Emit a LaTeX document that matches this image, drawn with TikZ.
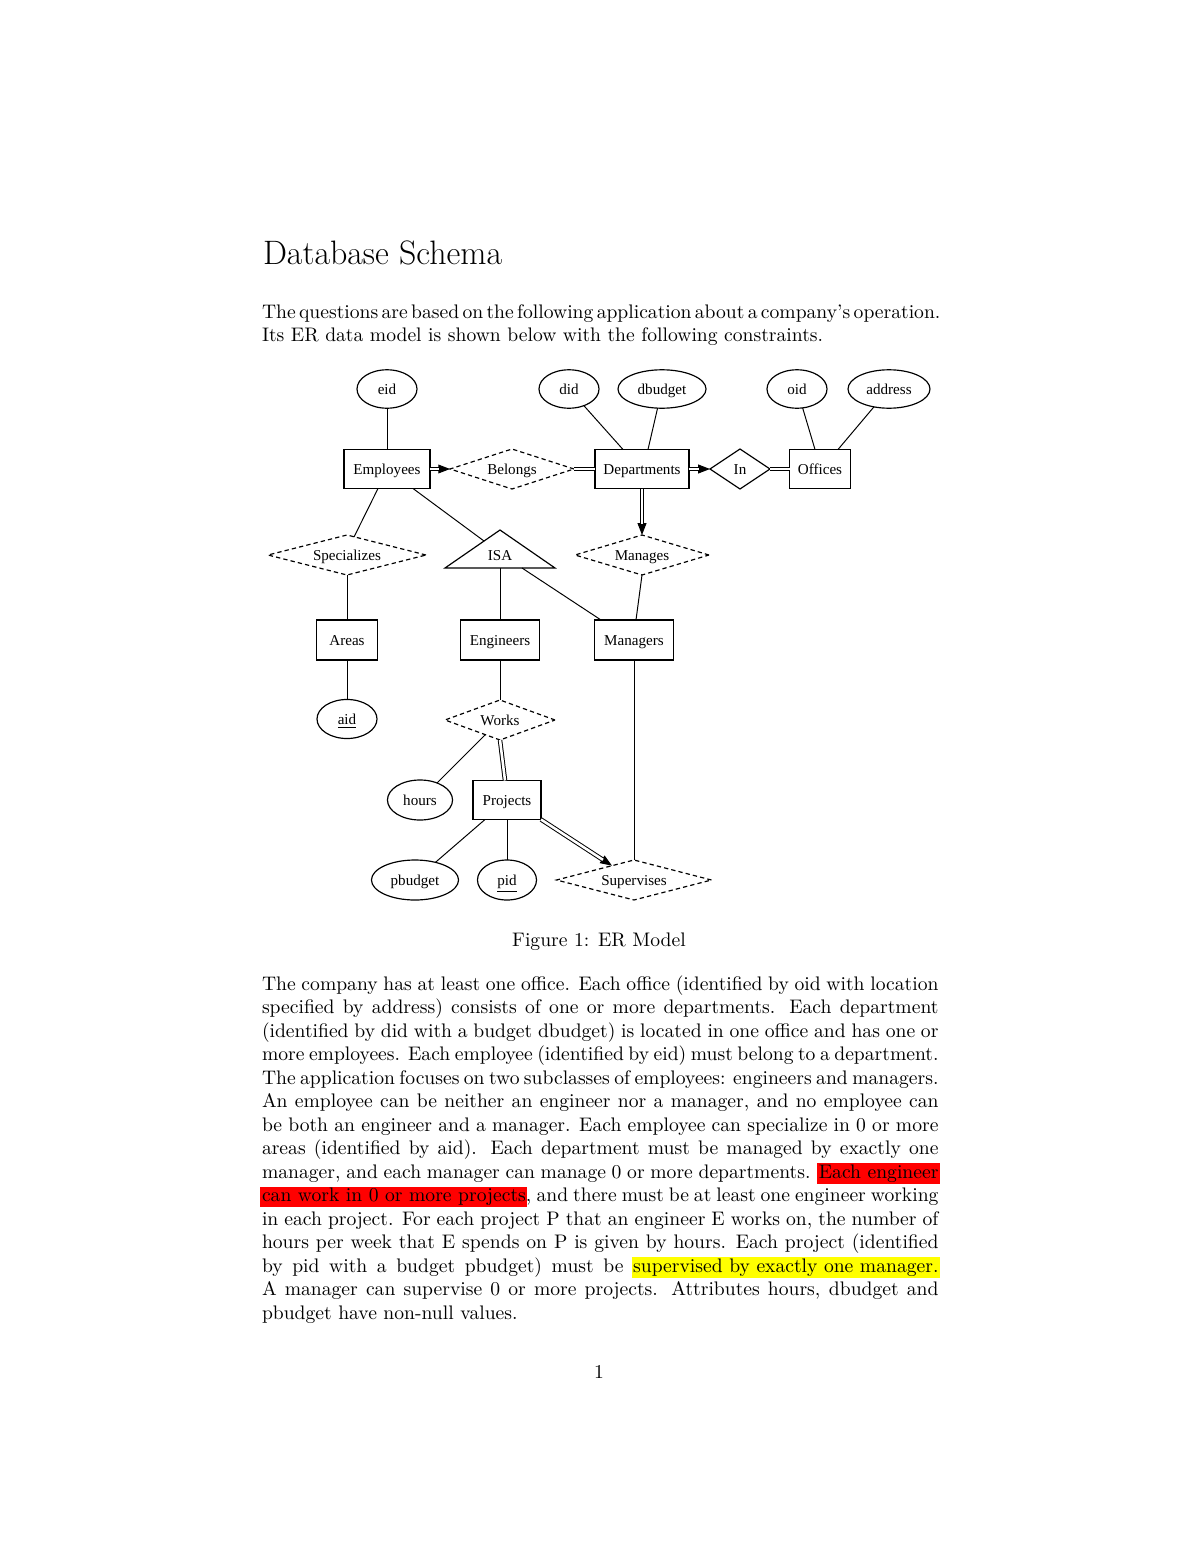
\documentclass[tikz,border=0pt]{standalone}
\usepackage{fontspec}
\newfontfamily\dfont{Liberation Serif}
\usetikzlibrary{shapes.geometric,arrows.meta,calc}
\newcommand\dblarr[2]{%
  \draw[line width=0.5pt,-{Triangle[length=6pt,width=4.5pt]}] (#1) -- (#2);
  \draw[dblline,shorten >=5.5pt] (#1) -- (#2);}
\newcommand\hlbox[2]{{\setlength\fboxsep{0.8pt}\kern-0.8pt\colorbox{#1}{#2\vphantom{hp}}\kern-0.8pt}}
\definecolor{hlred}{RGB}{255,0,0}
\definecolor{hlyel}{RGB}{255,255,0}
\begin{document}
\begin{tikzpicture}[x=0.51pt,y=-0.51pt,
  every node/.style={inner sep=0pt,outer sep=0pt},
  dfnt/.style={font=\dfont\fontsize{7.7}{9}\selectfont,text height=6.2pt,text depth=0.6pt},
  ent/.style={dfnt,draw,rectangle,line width=0.6pt,minimum height=19.9pt},
  att/.style={dfnt,draw,ellipse,line width=0.6pt,minimum height=19.6pt},
  rel/.style={dfnt,draw,diamond,line width=0.6pt,dash pattern=on 2.2pt off 1.6pt,minimum height=20.4pt},
  relsolid/.style={dfnt,draw,diamond,line width=0.6pt,minimum height=20.4pt},
  conn/.style={line width=0.5pt},
  dblline/.style={line width=0.5pt,double=white,double distance=1.3pt},
  body/.style={anchor=base west,font=\fontsize{10}{12}\selectfont,inner sep=0pt}]
\fill[white] (0,0) rectangle (1200,1553);
\useasboundingbox (0,0) rectangle (1200,1553);

% ---- title and intro ----
\node[anchor=base west,font=\fontsize{17.28}{21}\selectfont] (title) at (263,265) {Database Schema};
\node[body] (p1) at (262,318) {\spaceskip=2.2pt plus 1pt minus 0.5pt\makebox[345pt][s]{The questions are based on the following application about a company's operation.}};
\node[body] (p2) at (262,341.5) {Its ER data model is shown below with the following constraints.};

% ---- diagram: attributes ----
\node[att,minimum width=30.6pt] (eid) at (387,389) {eid};
\node[att,minimum width=30.6pt] (did) at (569,389) {did};
\node[att,minimum width=44.9pt] (dbudget) at (662,389) {dbudget};
\node[att,minimum width=30.6pt] (oid) at (797,389) {oid};
\node[att,minimum width=41.8pt] (address) at (889,389) {address};

% ---- entities and relationships ----
\node[ent,minimum width=43.9pt] (emp) at (387,469) {Employees};
\node[rel,minimum width=63.2pt,aspect=3.1] (bel) at (512,469) {Belongs};
\node[ent,minimum width=47.9pt] (dep) at (642,469) {Departments};
\node[relsolid,minimum width=30.6pt,aspect=1.5] (in) at (740,469) {In};
\node[ent,minimum width=31.1pt] (off) at (820,469) {Offices};

\node[rel,minimum width=80.6pt,aspect=3.95] (spec) at (347,555) {Specializes};
\draw[line width=0.6pt] (500,530) coordinate (isaA) -- (555,568) coordinate (isaR) -- (445,568) coordinate (isaL) -- cycle;
\node[dfnt] (isa) at (500,555) {ISA};
\coordinate (isaE) at (484,541);
\coordinate (isaS) at (500,568);
\coordinate (isaM) at (522,568);
\node[rel,minimum width=68.3pt,aspect=3.35] (man) at (642,555) {Manages};

\node[ent,minimum width=31.1pt,minimum height=20.4pt] (areas) at (347,640) {Areas};
\node[ent,minimum width=40.3pt,minimum height=20.4pt] (eng) at (500,640) {Engineers};
\node[ent,minimum width=40.3pt,minimum height=20.4pt] (mgr) at (634,640) {Managers};

\node[att,minimum width=30.6pt,minimum height=19.9pt] (aid) at (347,719) {\underline{aid}};
\node[rel,minimum width=56.1pt,aspect=2.75] (works) at (500,720) {Works};

\node[att,minimum width=33.2pt,minimum height=20.4pt] (hours) at (420,800) {hours};
\node[ent,minimum width=34.7pt] (proj) at (507,800) {Projects};

\node[att,minimum width=44.4pt,minimum height=20.4pt] (pbudget) at (415,880) {pbudget};
\node[att,minimum width=30.1pt,minimum height=20.4pt] (pid) at (507,880) {\underline{pid}};
\node[rel,minimum width=79pt,aspect=3.9] (sup) at (634,880) {Supervises};

% ---- connectors ----
\draw[conn] (eid) -- (emp);
\draw[conn] (did) -- ($(dep.north)+(-19,0)$);
\draw[conn] (dbudget) -- ($(dep.north)+(6,0)$);
\draw[conn] (oid) -- ($(off.north)+(-5,0)$);
\draw[conn] (address) -- ($(off.north)+(18,0)$);
\dblarr{emp.east}{bel.west}
\draw[dblline] (bel.east) -- (dep.west);
\dblarr{dep.east}{in.west}
\draw[dblline] (in.east) -- (off.west);
\dblarr{dep.south}{man.north}
\draw[conn] ($(emp.south)+(-9,0)$) -- ($(spec.north)+(7,2)$);
\draw[conn] ($(emp.south)+(26,0)$) -- (isaE);
\draw[conn] (spec.south) -- (areas.north);
\draw[conn] (isaS) -- (eng.north);
\draw[conn] (isaM) -- ($(mgr.north)+(-33,0)$);
\draw[conn] (man.south) -- ($(mgr.north)+(2,0)$);
\draw[conn] (areas.south) -- (aid.north);
\draw[conn] (eng.south) -- (works.north);
\draw[conn] (works) -- (hours);
\draw[dblline] (works.south) -- ($(proj.north)+(-2,0)$);
\draw[conn] ($(proj.south)+(-22,0)$) -- (pbudget);
\draw[conn] (proj.south) -- (pid.north);
\coordinate (supA) at ($(sup.north)+(-22,5.7)$);
\dblarr{proj.south east}{supA}
\draw[conn] (mgr.south) -- (sup.north);

% ---- caption ----
\node[anchor=base,font=\fontsize{10}{12}\selectfont] (cap) at (599,946) {Figure 1: ER Model};

% ---- body paragraph ----
\node[body] (l1) at (262,990.0) {\makebox[345pt][s]{The company has at least one office. Each office (identified by oid with location}};
\node[body] (l2) at (262,1013.5) {\makebox[345pt][s]{specified by address) consists of one or more departments. Each department}};
\node[body] (l3) at (262,1037.1) {\makebox[345pt][s]{(identified by did with a budget dbudget) is located in one office and has one or}};
\node[body] (l4) at (262,1060.6) {\makebox[345pt][s]{more employees. Each employee (identified by eid) must belong to a department.}};
\node[body] (l5) at (262,1084.1) {\makebox[345pt][s]{The application focuses on two subclasses of employees: engineers and managers.}};
\node[body] (l6) at (262,1107.7) {\makebox[345pt][s]{An employee can be neither an engineer nor a manager, and no employee can}};
\node[body] (l7) at (262,1131.2) {\makebox[345pt][s]{be both an engineer and a manager. Each employee can specialize in 0 or more}};
\node[body] (l8) at (262,1154.7) {\makebox[345pt][s]{areas (identified by aid). Each department must be managed by exactly one}};
\node[body] (l9) at (262,1178.2) {\makebox[345pt][s]{manager, and each manager can manage 0 or more departments. \hlbox{hlred}{Each engineer}}};
\node[body] (l10) at (262,1201.8) {\makebox[345pt][s]{\hlbox{hlred}{can work in 0 or more projects}, and there must be at least one engineer working}};
\node[body] (l11) at (262,1225.3) {\makebox[345pt][s]{in each project. For each project P that an engineer E works on, the number of}};
\node[body] (l12) at (262,1248.8) {\makebox[345pt][s]{hours per week that E spends on P is given by hours. Each project (identified}};
\node[body] (l13) at (262,1272.4) {\makebox[345pt][s]{by pid with a budget pbudget) must be \hlbox{hlyel}{supervised by exactly one manager.}}};
\node[body] (l14) at (262,1295.9) {\makebox[345pt][s]{A manager can supervise 0 or more projects. Attributes hours, dbudget and}};
\node[body] (l15) at (262,1319.4) {pbudget have non-null values.};

\node[anchor=base,font=\fontsize{10}{12}\selectfont] (pg) at (599,1378) {1};
\end{tikzpicture}
\end{document}
